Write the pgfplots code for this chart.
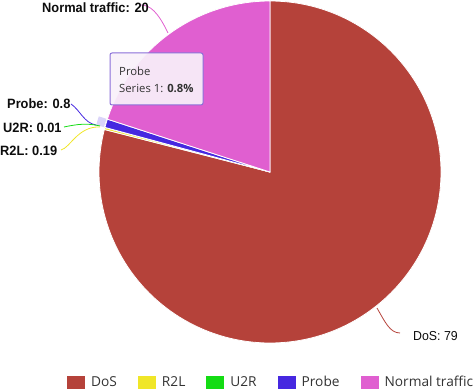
\documentclass[border=0pt]{standalone}
\usepackage{pgfplots}
\pgfplotsset{compat=1.18}
\usepackage{pgfplotstable}
\usepackage{fontspec}
\setmainfont{Open Sans}
\newfontfamily\labfont[FakeStretch=0.95]{Liberation Sans}
\definecolor{dos}{HTML}{B5423A}
\definecolor{rtwol}{HTML}{F0E628}
\definecolor{utwor}{HTML}{14DC14}
\definecolor{probe}{HTML}{4628E0}
\definecolor{normal}{HTML}{E05FD0}
\definecolor{tipb}{HTML}{8A6FD8}
\definecolor{tipf}{HTML}{F8F1FA}
\pgfplotstableread{
name value col
DoS 79 dos
R2L 0.19 rtwol
U2R 0.01 utwor
Probe 0.8 probe
Normal 20 normal
}\piedata
\begin{document}
\begin{tikzpicture}
\path[use as bounding box] (0,0) rectangle (474pt,391pt);
\begin{axis}[at={(0,0)}, anchor=south west, width=474pt, height=391pt,
  scale only axis, hide axis, xmin=0, xmax=474, ymin=0, ymax=391, clip=false,
  legend columns=-1,
  legend image code/.code={\fill[#1] (0pt,-6.5pt) rectangle (18pt,6.5pt);},
  legend style={draw=none, fill=none, inner sep=0pt, at={(0.14135,0.023)}, anchor=west,
    font=\fontsize{13.7}{16}\selectfont, text=black!80,
    nodes={inner sep=0pt},
    /tikz/every odd column/.append style={column sep=6pt},
    /tikz/every even column/.append style={column sep=21pt}},
]
\def\cum{0}
\pgfplotsforeachungrouped \i in {0,...,4}{%
  \pgfplotstablegetelem{\i}{value}\of\piedata \let\sliceval\pgfplotsretval
  \pgfplotstablegetelem{\i}{col}\of\piedata \let\slicecol\pgfplotsretval
  \pgfmathsetmacro\sa{90-3.6*\cum}%
  \pgfmathsetmacro\sb{90-3.6*(\cum+\sliceval)}%
  \edef\temp{\noexpand\fill[\slicecol, draw=white, line width=0.8pt, line join=round] (axis cs:270,219) -- ++(\sa:171pt) arc[start angle=\sa, end angle=\sb, radius=171pt] -- cycle;}%
  \temp
  \ifnum\i=3 \let\pa\sa \let\pb\sb \fi
  \pgfmathsetmacro\cum{\cum+\sliceval}%
}
\edef\temp{\noexpand\fill[probe!25, opacity=0.8] (axis cs:270,219) ++(\pa:172pt) arc[start angle=\pa, end angle=\pb, radius=172pt] -- ++(\pb:8pt) arc[start angle=\pb, end angle=\pa, radius=180pt] -- cycle;}
\temp
% leader lines
\draw[normal, line width=0.8pt] (axis cs:141,386) .. controls (axis cs:150,386) and (axis cs:158,379) .. (axis cs:168,358);
\draw[probe, line width=0.8pt] (axis cs:71,287) .. controls (axis cs:80,281) and (axis cs:84,268) .. (axis cs:96,266);
\draw[utwor, line width=0.8pt] (axis cs:64,264) .. controls (axis cs:78,267) and (axis cs:88,268) .. (axis cs:100,265);
\draw[rtwol, line width=0.8pt] (axis cs:61,241) .. controls (axis cs:70,243) and (axis cs:78,265) .. (axis cs:100,264);
\draw[dos, line width=0.8pt] (axis cs:377,83) .. controls (axis cs:385,69) and (axis cs:390,58) .. (axis cs:400,58);
% labels
\node[anchor=west, inner sep=0pt, text=black!95, font=\labfont\bfseries\fontsize{13.5}{15}\selectfont] at (axis cs:42,383) {Normal traffic: 20};
\node[anchor=west, inner sep=0pt, text=black!95, font=\labfont\bfseries\fontsize{13.5}{15}\selectfont] at (axis cs:7,287) {Probe: 0.8};
\node[anchor=west, inner sep=0pt, text=black!95, font=\labfont\bfseries\fontsize{13.5}{15}\selectfont] at (axis cs:3,263) {U2R: 0.01};
\node[anchor=west, inner sep=0pt, text=black!95, font=\labfont\bfseries\fontsize{13.5}{15}\selectfont] at (axis cs:0,240) {R2L: 0.19};
\node[anchor=west, inner sep=0pt, text=black!95, font=\labfont\fontsize{13}{15}\selectfont] at (axis cs:413,55) {DoS: 79};
% tooltip
\draw[draw=tipb, fill=tipf, fill opacity=0.92, rounded corners=2pt, line width=1pt] (axis cs:110,338) rectangle (axis cs:203,286);
\node[anchor=west, inner sep=0pt, text=black!80, font=\fontsize{11.3}{13}\selectfont] at (axis cs:119,320) {Probe};
\node[anchor=west, inner sep=0pt, text=black!80, font=\fontsize{11.3}{13}\selectfont] at (axis cs:119,303) {Series 1: \textbf{0.8\%}};
% legend
\addlegendimage{fill=dos, draw=none}\addlegendentry{DoS}
\addlegendimage{fill=rtwol, draw=none}\addlegendentry{R2L}
\addlegendimage{fill=utwor, draw=none}\addlegendentry{U2R}
\addlegendimage{fill=probe, draw=none}\addlegendentry{Probe}
\addlegendimage{fill=normal, draw=none}\addlegendentry{Normal traffic}
\end{axis}
\end{tikzpicture}
\end{document}
